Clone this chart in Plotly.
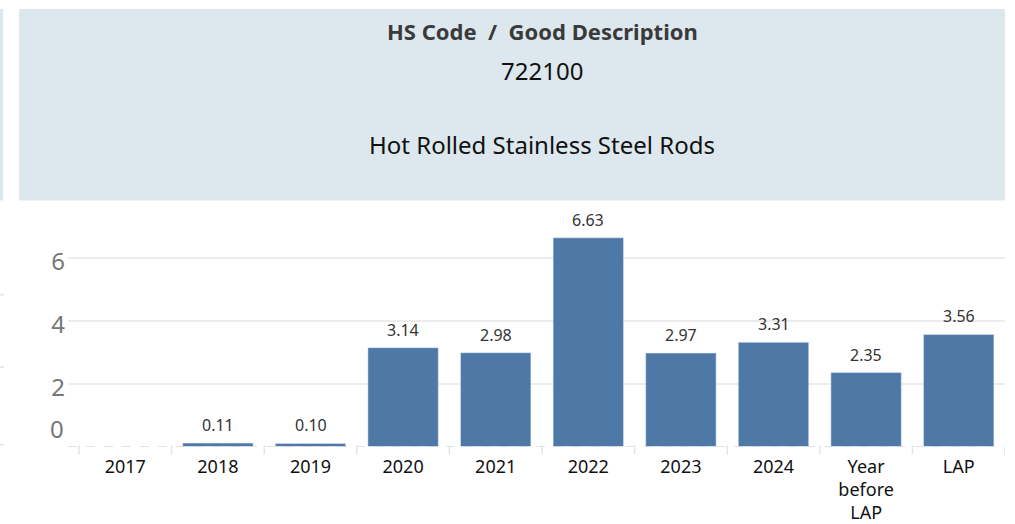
import plotly.graph_objects as go

categories = ["2017", "2018", "2019", "2020", "2021", "2022", "2023", "2024", "Year before LAP", "LAP"]
tick_labels = ["2017", "2018", "2019", "2020", "2021", "2022", "2023", "2024", "Year<br>before<br>LAP", "LAP"]
values = [None, 0.11, 0.10, 3.14, 2.98, 6.63, 2.97, 3.31, 2.35, 3.56]
y_ticks = [2, 4, 6]

header_title = "HS Code / Good Description"
hs_code = "722100"
good_desc = "Hot Rolled Stainless Steel Rods"

W, H = 1015, 524
BAR = "#4E79A7"
HEAD_BG = "#DCE8EE"
FONT = "Noto Sans"

def px_x(p):
    return p / W

def px_y(p):
    return 1 - p / H

n = len(categories)
x_left_px, x_right_px = 68, 1005
cat_left_px = 79
cat_w = (x_right_px - cat_left_px) / n
x_min = -0.5 - (cat_left_px - x_left_px) / cat_w
y_bottom_px, y_top_px = 450, 212
y_max = 7.5

fig = go.Figure()
fig.add_trace(go.Bar(
    x=categories, y=values, marker_color=BAR, width=0.76,
    hoverinfo="x+y",
))

annotations = []
for i, v in enumerate(values):
    if v is None:
        continue
    annotations.append(dict(
        x=i, y=v, xref="x", yref="y", text=f"{v:.2f}", showarrow=False,
        yanchor="bottom", yshift=5, font=dict(family=FONT, size=16, color="#333333"),
    ))
annotations.append(dict(
    x=px_x(x_left_px), xref="paper", y=0, yref="y", text="0", showarrow=False,
    xanchor="right", yanchor="middle", yshift=18, xshift=-2,
    font=dict(family=FONT, size=24, color="#777777"),
))
annotations += [
    dict(x=px_x(542), y=px_y(31), xref="paper", yref="paper", text="<b>" + header_title.replace(" / ", "  /  ") + "</b>",
         showarrow=False, xanchor="center", yanchor="middle",
         font=dict(family=FONT, size=22, color="#3a3a3a")),
    dict(x=px_x(542), y=px_y(71), xref="paper", yref="paper", text=hs_code,
         showarrow=False, xanchor="center", yanchor="middle",
         font=dict(family=FONT, size=24, color="#111111")),
    dict(x=px_x(542), y=px_y(146), xref="paper", yref="paper", text=good_desc,
         showarrow=False, xanchor="center", yanchor="middle",
         font=dict(family=FONT, size=24, color="#111111")),
]

shapes = [
    dict(type="rect", xref="paper", yref="paper", x0=px_x(19), x1=px_x(1005),
         y0=px_y(202), y1=px_y(9), fillcolor=HEAD_BG, line_width=0, layer="below"),
    dict(type="rect", xref="paper", yref="paper", x0=0, x1=px_x(3),
         y0=px_y(202), y1=px_y(9), fillcolor=HEAD_BG, line_width=0, layer="below"),
    dict(type="line", xref="paper", yref="y", x0=px_x(x_left_px), x1=px_x(x_right_px),
         y0=0, y1=0, line=dict(color="#c4c4c4", width=1, dash="dash")),
]
for i in range(n + 1):
    xb = i - 0.5
    shapes.append(dict(type="line", xref="x", yref="paper", x0=xb, x1=xb,
                       y0=px_y(458), y1=px_y(449), line=dict(color="#e4e4e4", width=1.5)))
for yp in [297, 370, 448]:
    shapes.append(dict(type="line", xref="paper", yref="paper", x0=0, x1=px_x(4),
                       y0=px_y(yp), y1=px_y(yp), line=dict(color="#e4e4e4", width=1.5)))

fig.update_layout(
    width=W, height=H,
    margin=dict(l=0, r=0, t=0, b=0),
    paper_bgcolor="white", plot_bgcolor="white",
    showlegend=False,
    annotations=annotations,
    shapes=shapes,
    xaxis=dict(
        domain=[px_x(x_left_px), px_x(x_right_px)],
        range=[x_min, n - 0.5],
        type="category",
        tickmode="array", tickvals=categories, ticktext=tick_labels,
        showgrid=False, zeroline=False, showline=False, ticks="",
        tickfont=dict(family=FONT, size=18, color="#111111"),
        ticklabelstandoff=7,
        anchor="y",
    ),
    yaxis=dict(
        domain=[px_y(y_bottom_px), px_y(y_top_px)],
        range=[0, y_max],
        tickmode="array", tickvals=y_ticks, ticktext=[str(t) for t in y_ticks],
        showgrid=True, gridcolor="#ececec", gridwidth=1.5,
        zeroline=False, showline=False, ticks="",
        tickfont=dict(family=FONT, size=24, color="#777777"),
        ticklabelstandoff=2, ticklabelshift=4,
    ),
    font=dict(family=FONT),
)

fig.write_html("out.html", config={"displayModeBar": False},
               post_script="document.body.style.margin='0';")
